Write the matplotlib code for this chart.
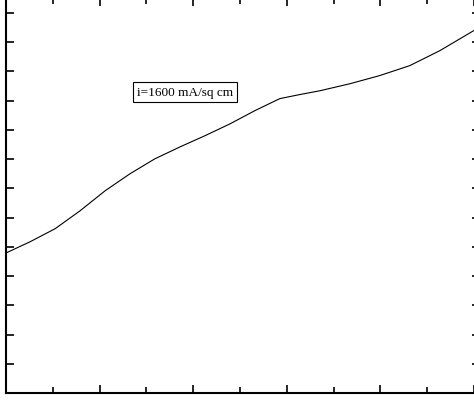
import matplotlib.pyplot as plt
import numpy as np
from matplotlib.ticker import MultipleLocator

# curve (x in tick units, y in tick units)
x = [0.0, 0.51, 1.05, 1.58, 2.12, 2.65, 3.18, 3.72, 4.25, 4.79, 5.32, 5.85, 6.28, 6.71, 7.35, 7.99, 8.63, 9.27, 10.0]
y = [4.79, 5.17, 5.62, 6.23, 6.92, 7.50, 8.01, 8.42, 8.80, 9.21, 9.66, 10.07, 10.21, 10.34, 10.58, 10.86, 11.20, 11.71, 12.40]
label = "i=1600 mA/sq cm"

fig = plt.figure(figsize=(4.74, 4.02), dpi=100)
ax = fig.add_axes([6/474, 8/402, 1.0, 395.5/402])
ax.plot(x, y, color="black", lw=0.8)
ax.set_xlim(0, 10.13)
ax.set_ylim(0, 13.53)
ax.xaxis.set_major_locator(MultipleLocator(2))
ax.xaxis.set_minor_locator(MultipleLocator(1))
ax.yaxis.set_major_locator(MultipleLocator(1))
ax.tick_params(which="both", direction="in", top=True, right=True,
               labelbottom=False, labelleft=False, width=1.2)
ax.tick_params(which="major", length=6)
ax.tick_params(which="minor", length=4)
for s in ax.spines.values():
    s.set_linewidth(1.5)
ax.text(2.8, 10.3, label, family="Liberation Serif", fontsize=9.5,
        va="center", ha="left",
        bbox=dict(boxstyle="square,pad=0.3", fc="white", ec="black", lw=0.8))
fig.savefig("out.png", dpi=100)
